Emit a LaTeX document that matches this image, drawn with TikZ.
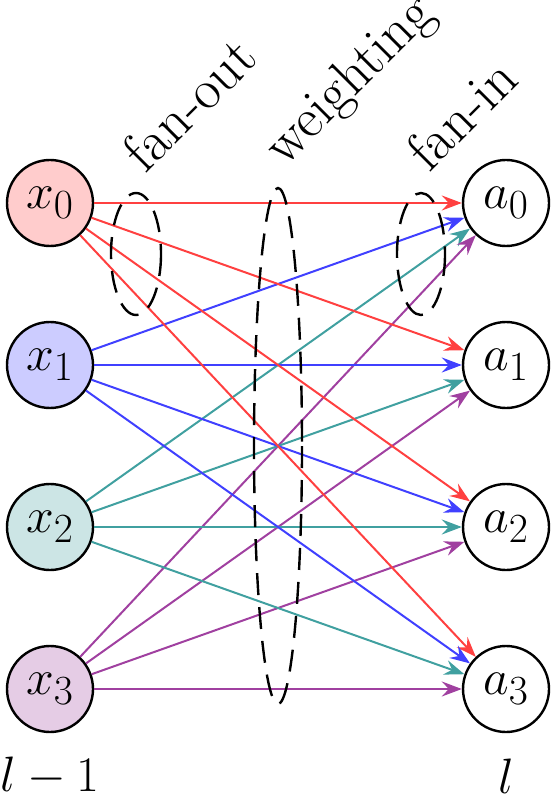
\documentclass[tikz,border=0pt]{standalone}
\usetikzlibrary{arrows.meta}
\begin{document}
\begin{tikzpicture}[x=0.5pt,y=-0.5pt,
  neuron/.style={circle,draw,line width=1.2pt,minimum size=43pt,inner sep=0pt,font=\fontsize{28}{32}\selectfont},
  lbl/.style={font=\fontsize{28}{32}\selectfont,rotate=45},
  edge/.style={line width=1pt,-{Stealth[length=10pt,width=7.5pt,inset=3.5pt]}},
  grp/.style={draw,line width=1.2pt,dash pattern=on 11pt off 6pt}
]
\useasboundingbox (0,0) rectangle (550,806);
\definecolor{cr}{RGB}{255,64,64}
\definecolor{cb}{RGB}{64,64,255}
\definecolor{ct}{RGB}{64,160,160}
\definecolor{cv}{RGB}{160,64,160}
\node[neuron,fill=red!20] (x0) at (50,203) {$x_0$};
\node[neuron,fill=blue!20] (x1) at (50,365) {$x_1$};
\node[neuron,fill=teal!20] (x2) at (50,527) {$x_2$};
\node[neuron,fill=violet!20] (x3) at (50,689) {$x_3$};
\node[neuron] (a0) at (506,203) {$a_0$};
\node[neuron] (a1) at (506,365) {$a_1$};
\node[neuron] (a2) at (506,527) {$a_2$};
\node[neuron] (a3) at (506,689) {$a_3$};
\foreach \j in {0,1,2,3} {
  \draw[edge,cr] (x0) -- (a\j);
  \draw[edge,cb] (x1) -- (a\j);
  \draw[edge,ct] (x2) -- (a\j);
  \draw[edge,cv] (x3) -- (a\j);
}
\draw[grp] (136,254) ellipse [x radius=25, y radius=61];
\draw[grp] (278,446) ellipse [x radius=24, y radius=258];
\draw[grp] (421,254) ellipse [x radius=24, y radius=61];
\node[lbl] (fo) at (189,104) {fan-out};
\node[lbl] (wt) at (351,82) {weighting};
\node[lbl] (fi) at (461,114) {fan-in};
\node[font=\fontsize{28}{32}\selectfont] (ll) at (50,776) {$l-1$};
\node[font=\fontsize{28}{32}\selectfont] (l) at (506,776) {$l$};
\end{tikzpicture}
\end{document}
